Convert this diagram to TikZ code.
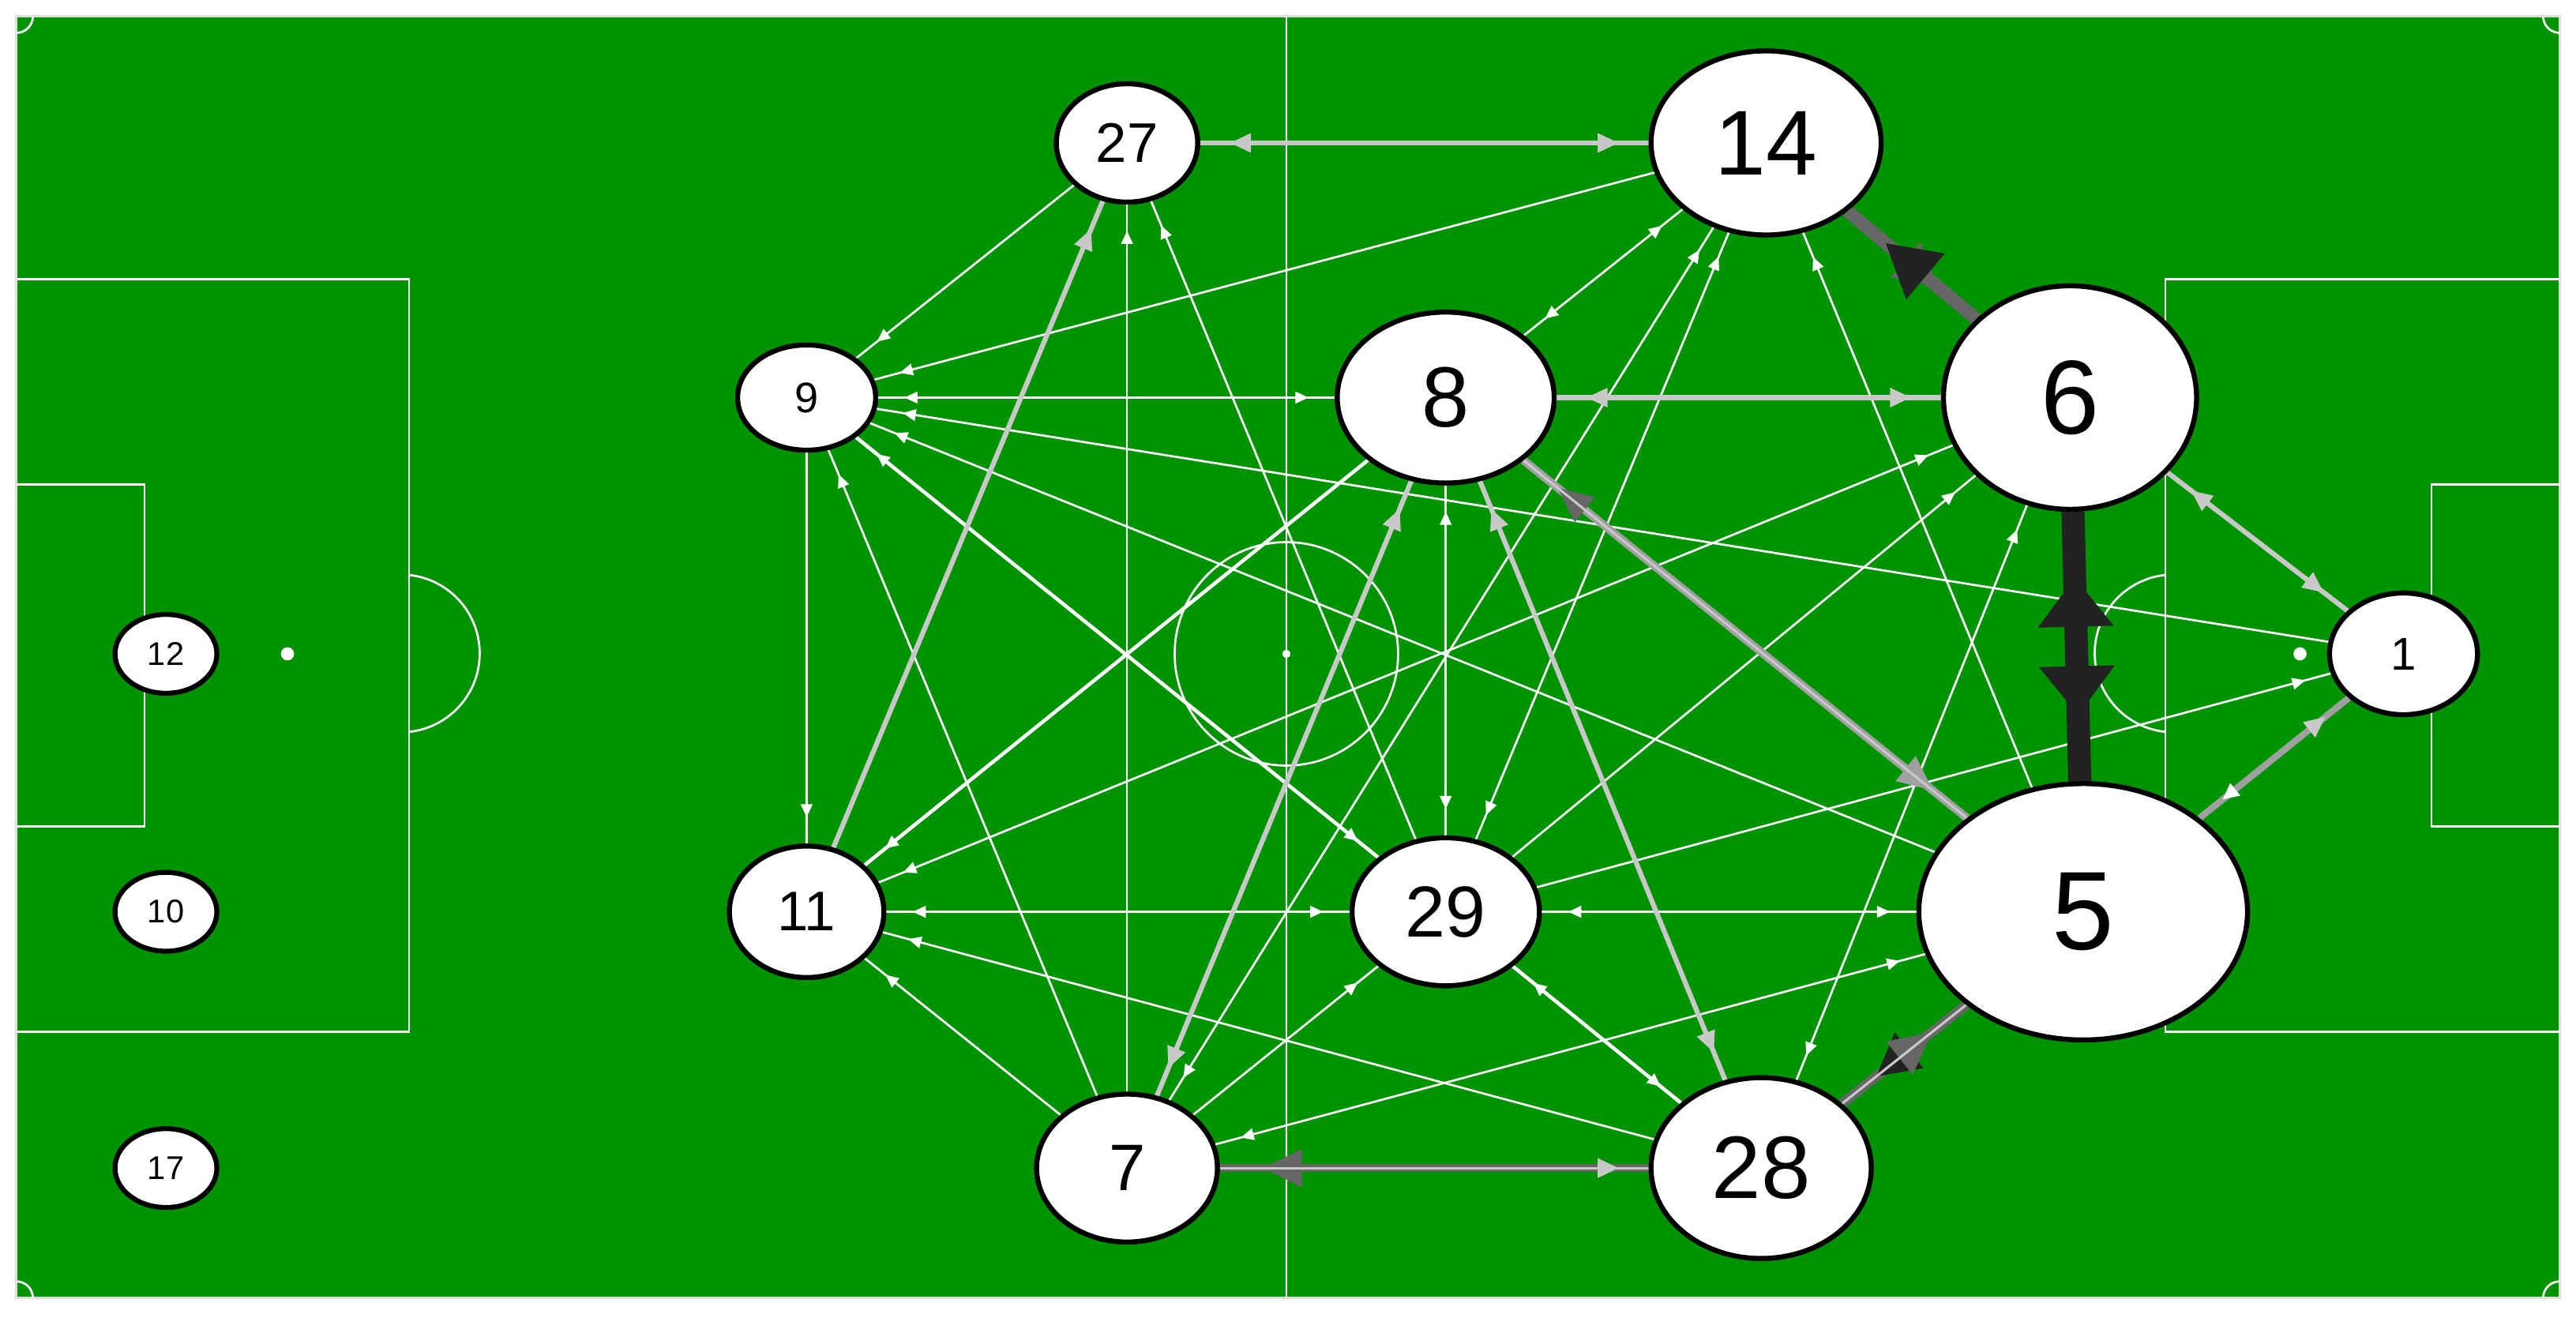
\documentclass[tikz,border=0pt]{standalone}
\usepackage{fontspec}
\setmainfont{Liberation Sans}
\usetikzlibrary{shapes.geometric,arrows.meta,decorations.markings}
\definecolor{pitch}{HTML}{009300}
\definecolor{lgr}{HTML}{C8C8C8}
\definecolor{mgr}{HTML}{A0A0A0}
\definecolor{dgr}{HTML}{666666}
\definecolor{blk}{HTML}{222222}
\tikzset{
  pl/.style={ellipse,draw=black,fill=white,line width=3pt,inner sep=0pt},
  fl/.style={draw=white,line width=1.3pt},
  wl/.style={draw=white,line width=1.3pt},
  wt/.style={draw=white,line width=2.2pt},
  gl/.style={draw=lgr,line width=3pt},
  hE/.style n args={4}{postaction={decorate,decoration={markings,mark=at position -#2 with {\arrow{Triangle[length=#3,width=#4,fill=#1,color=#1]}}}}},
  hS/.style n args={4}{postaction={decorate,decoration={markings,mark=at position #2 with {\arrowreversed{Triangle[length=#3,width=#4,fill=#1,color=#1]}}}}},
  te/.style={hE={white}{16pt}{8pt}{7pt}},
  ts/.style={hS={white}{16pt}{8pt}{7pt}},
  le/.style={hE={lgr}{18pt}{13pt}{11pt}},
  ls/.style={hS={lgr}{18pt}{13pt}{11pt}},
}
\begin{document}
\begin{tikzpicture}[x=1pt,y=-1pt]
\useasboundingbox (0,0) rectangle (1568,802);
\fill[white] (0,0) rectangle (1568,802);
\fill[pitch] (10,10) rectangle (1558,790);
\draw[lgr!60,line width=1.5pt] (10,10) rectangle (1558,790);
% pitch markings
\draw[fl] (783,10) -- (783,790);
\draw[fl] (783,398) circle (68);
\fill[white] (783,398) circle (2.5);
\draw[fl] (10,170) -- (249,170) -- (249,628) -- (10,628);
\draw[fl] (10,295) -- (88,295) -- (88,503) -- (10,503);
\fill[white] (175,398) circle (4);
\draw[fl] (249,350) arc[start angle=-84,end angle=84,radius=48];
\draw[fl] (1558,170) -- (1318,170) -- (1318,628) -- (1558,628);
\draw[fl] (1558,295) -- (1480,295) -- (1480,503) -- (1558,503);
\fill[white] (1400,398) circle (4);
\draw[fl] (1318,350) arc[start angle=264,end angle=96,radius=48];
\draw[fl] (10,20) arc[start angle=90,end angle=0,radius=10];
\draw[fl] (1558,20) arc[start angle=90,end angle=180,radius=10];
\draw[fl] (10,780) arc[start angle=-90,end angle=0,radius=10];
\draw[fl] (1558,780) arc[start angle=270,end angle=180,radius=10];
% players
\node[pl,minimum width=86,minimum height=72] (n27) at (686,87) {\fontsize{34}{34}\selectfont 27};
\node[pl,minimum width=140,minimum height=112] (n14) at (1075,87) {\fontsize{56}{56}\selectfont 14};
\node[pl,minimum width=84,minimum height=64] (n9) at (491,242) {\fontsize{26}{26}\selectfont 9};
\node[pl,minimum width=132,minimum height=104] (n8) at (880,242) {\fontsize{52}{52}\selectfont 8};
\node[pl,minimum width=154,minimum height=136] (n6) at (1260,242) {\fontsize{64}{64}\selectfont 6};
\node[pl,minimum width=90,minimum height=74] (n1) at (1463,398) {\fontsize{28}{28}\selectfont 1};
\node[pl,minimum width=62,minimum height=48] (n12) at (101,398) {\fontsize{20}{20}\selectfont 12};
\node[pl,minimum width=62,minimum height=48] (n10) at (101,555) {\fontsize{20}{20}\selectfont 10};
\node[pl,minimum width=62,minimum height=48] (n17) at (101,711) {\fontsize{20}{20}\selectfont 17};
\node[pl,minimum width=94,minimum height=80] (n11) at (491,555) {\fontsize{34}{34}\selectfont 11};
\node[pl,minimum width=114,minimum height=90] (n29) at (880,555) {\fontsize{44}{44}\selectfont 29};
\node[pl,minimum width=200,minimum height=156] (n5) at (1268,555) {\fontsize{68}{68}\selectfont 5};
\node[pl,minimum width=110,minimum height=90] (n7) at (686,711) {\fontsize{40}{40}\selectfont 7};
\node[pl,minimum width=134,minimum height=110] (n28) at (1072,711) {\fontsize{54}{54}\selectfont 28};
% edges
\draw[wl,te] (n27) -- (n9);
\draw[wl,te] (n14) -- (n9);
\draw[wl,te] (n7) -- (n27);
\draw[wl,te] (n29) -- (n27);
\draw[wl,te,ts] (n9) -- (n8);
\draw[wl,te,ts] (n14) -- (n8);
\draw[wl,te] (n1) -- (n9);
\draw[wl,te] (n5) -- (n9);
\draw[wt,te,ts] (n9) -- (n29);
\draw[wl,te] (n7) -- (n9);
\draw[wl,te] (n9) -- (n11);
\draw[wl,te,ts] (n11) -- (n29);
\draw[wl,te,ts] (n6) -- (n11);
\draw[wt,te] (n8) -- (n11);
\draw[wl,te] (n7) -- (n11);
\draw[wl,te] (n28) -- (n11);
\draw[wl,te] (n7) -- (n29);
\draw[wl,te,ts] (n14) -- (n7);
\draw[wl,te,ts] (n8) -- (n29);
\draw[wl,te,ts] (n14) -- (n29);
\draw[wl,te,ts] (n5) -- (n29);
\draw[wl,te] (n29) -- (n1);
\draw[wt,te,ts] (n29) -- (n28);
\draw[wl,te,ts] (n28) -- (n6);
\draw[wl,te] (n29) -- (n6);
\draw[wl,te] (n5) -- (n14);
\draw[wl,te,ts] (n5) -- (n7);
% heavier
\draw[gl,le] (n11) -- (n27);
\draw[gl,le,ls] (n27) -- (n14);
\draw[gl,le,ls] (n8) -- (n6);
\draw[gl,le,ls] (n6) -- (n1);
\draw[gl,le,ls] (n8) -- (n7);
\draw[gl,le,ls] (n8) -- (n28);
\draw[draw=mgr,line width=4pt,hE={lgr}{18pt}{13pt}{11pt},hS={white}{18pt}{10pt}{9pt}] (n5) -- (n1);
\draw[draw=mgr,line width=5pt,hE={mgr}{26pt}{22pt}{18pt},hS={dgr}{26pt}{22pt}{18pt}] (n8) -- (n5);
\draw[draw=lgr,line width=1.5pt] (n8) -- (n5);
\draw[draw=dgr,line width=5pt,hE={lgr}{18pt}{13pt}{11pt},hS={dgr}{26pt}{24pt}{22pt}] (n7) -- (n28);
\draw[draw=lgr,line width=1.5pt] (n7) -- (n28);
\draw[draw=dgr,line width=6pt,hE={blk}{26pt}{26pt}{26pt},hS={dgr}{26pt}{26pt}{24pt}] (n5) -- (n28);
\draw[draw=lgr,line width=1.5pt] (n5) -- (n28);
\draw[draw=dgr,line width=8pt,hE={dgr}{30pt}{26pt}{26pt},hS={blk}{30pt}{32pt}{34pt}] (n14) -- (n6);
\draw[draw=blk,line width=14pt,hE={blk}{40pt}{30pt}{44pt},hS={blk}{40pt}{30pt}{44pt}] (n6) -- (n5);
% redraw nodes on top
\foreach \n/\x/\y/\w/\h/\f in {27/686/87/86/72/34,14/1075/87/140/112/56,9/491/242/84/64/26,8/880/242/132/104/52,6/1260/242/154/136/64,1/1463/398/90/74/28,11/491/555/94/80/34,29/880/555/114/90/44,5/1268/555/200/156/68,7/686/711/110/90/40,28/1072/711/134/110/54}
  \node[pl,minimum width=\w,minimum height=\h] (m\n) at (\x,\y) {\fontsize{\f}{\f}\selectfont \n};
\end{tikzpicture}
\end{document}
